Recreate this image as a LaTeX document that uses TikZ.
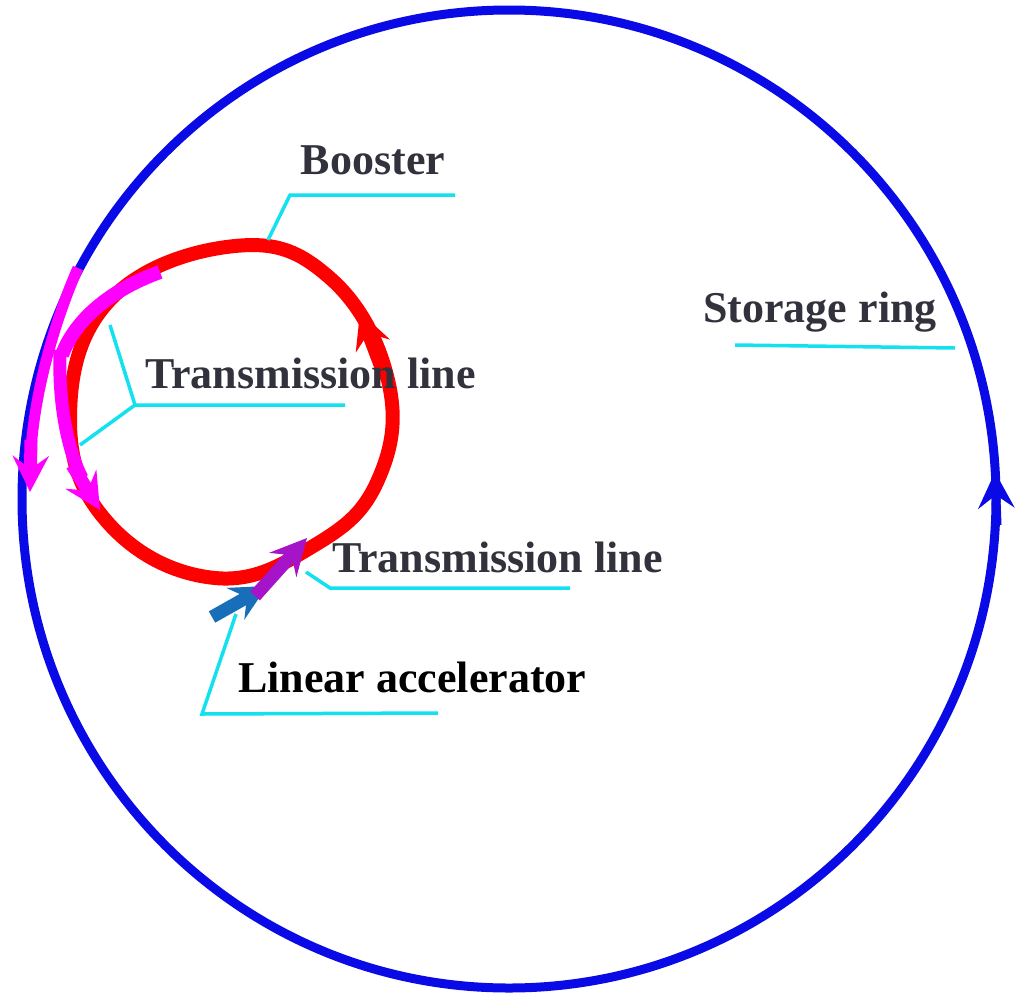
\documentclass[tikz,border=0pt]{standalone}
\usepackage{fontspec}
\setmainfont{Liberation Serif}
\usetikzlibrary{arrows.meta}
\definecolor{ringblue}{RGB}{10,10,230}
\definecolor{bred}{RGB}{255,0,0}
\definecolor{mag}{RGB}{255,0,255}
\definecolor{leadc}{RGB}{20,225,240}
\definecolor{linac}{RGB}{25,110,185}
\definecolor{purp}{RGB}{165,20,200}
\definecolor{txt}{RGB}{50,50,60}
\begin{document}
\begin{tikzpicture}[x=1pt,y=-1pt,
  lbl/.style={font=\bfseries\fontsize{44}{48}\selectfont,text=txt,inner sep=0pt},
  lead/.style={draw=leadc,line width=3.5pt},
  tip/.style={-{Stealth[length=36pt,width=36pt,inset=13pt]}}]
\useasboundingbox (0,0) rectangle (1025,996);
% storage ring
\draw[ringblue,line width=9pt] (509,499) ellipse [x radius=487, y radius=489];
\draw[ringblue,line width=9pt,tip] (997,525) -- (995,472);
% booster
\draw[bred,line width=14pt] plot[smooth cycle,tension=0.7] coordinates {(235,246) (330,278) (388,380) (378,480) (315,545) (215,578) (110,525) (70,420) (110,300)};
\draw[bred,line width=13pt,tip] (385,378) -- (360,312);
% transmission line to storage ring
\draw[mag,line width=14pt] (160,272) .. controls (110,290) and (75,320) .. (62,355);
\draw[mag,line width=11pt] (78,268) .. controls (55,320) and (35,390) .. (31,450);
\draw[mag,line width=13pt,tip] (31,440) -- (30,492);
\draw[mag,line width=13pt] (60,350) .. controls (58,410) and (70,455) .. (82,478);
\draw[mag,line width=13pt,tip] (72,465) -- (100,510);
% linac and transfer
\draw[linac,line width=13pt,tip] (212,617) -- (267,586);
\draw[purp,line width=13pt,tip] (255,596) -- (307,538);
% labels
\node[lbl,anchor=base] (boost) at (373,174) {Booster};
\node[lbl,anchor=base] (sr) at (820,322) {Storage ring};
\node[lbl,anchor=base west] (tl1) at (145,388) {Transmission line};
\node[lbl,anchor=base west] (tl2) at (332,572) {Transmission line};
\node[lbl,anchor=base west,text=black] (lin) at (238,692) {Linear accelerator};
% leaders
\coordinate (b1) at (268,240); \coordinate (b2) at (290,195); \coordinate (b3) at (455,195);
\draw[lead] (b1) -- (b2) -- (b3);
\coordinate (s1) at (735,345); \coordinate (s2) at (955,348);
\draw[lead] (s1) -- (s2);
\coordinate (t0) at (135,405); \coordinate (t1) at (110,325); \coordinate (t2) at (80,445); \coordinate (t3) at (345,405);
\draw[lead] (t1) -- (t0) -- (t3); \draw[lead] (t2) -- (t0);
\coordinate (u1) at (306,572); \coordinate (u2) at (330,588); \coordinate (u3) at (570,588);
\draw[lead] (u1) -- (u2) -- (u3);
\coordinate (l1) at (236,614); \coordinate (l2) at (202,714); \coordinate (l3) at (438,713);
\draw[lead] (l1) -- (l2) -- (l3);
\end{tikzpicture}
\end{document}
